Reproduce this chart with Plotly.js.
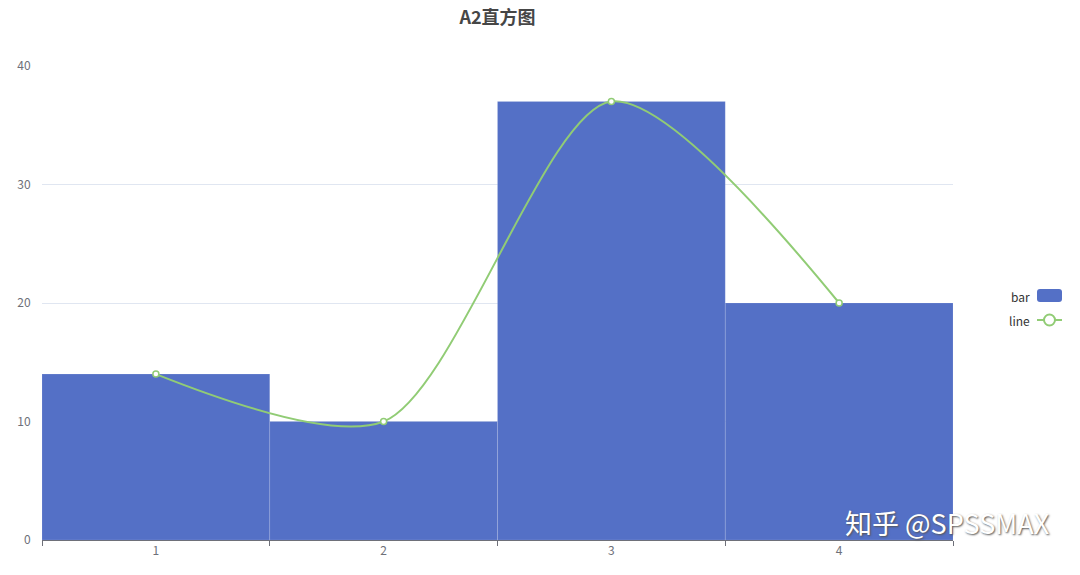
<!DOCTYPE html>
<html><head><meta charset="utf-8">
<script src="https://cdn.plot.ly/plotly-3.0.1.min.js"></script>
<style>html,body{margin:0;padding:0;background:#fff}#chart{width:1080px;height:575px}</style>
</head><body><div id="chart"></div>
<script>
const categories = ["1", "2", "3", "4"];
const barValues = [14, 10, 37, 20];
const lineValues = [14, 10, 37, 20];
const yTicks = [0, 10, 20, 30, 40];

const L = 42, R = 953, T = 66, B = 540;
const px = x => (x - L) / (R - L);
const py = y => (B - y) / (B - T);

const traces = [
  {type: 'bar', name: 'bar', x: categories, y: barValues,
   marker: {color: '#5470c6', line: {color: 'rgba(255,255,255,0.12)', width: 1}},
   hoverinfo: 'skip', showlegend: false},
  {type: 'scatter', mode: 'lines+markers', name: 'line', x: categories, y: lineValues,
   line: {color: '#91cc75', width: 2, shape: 'spline', smoothing: 0.8},
   marker: {symbol: 'circle', size: 6, color: '#ffffff', line: {color: '#91cc75', width: 1.5}},
   hoverinfo: 'skip', showlegend: false}
];

const font = {family: '"Microsoft YaHei", "Noto Sans CJK SC", "Noto Sans", sans-serif', size: 12, color: '#6e7079'};

const layout = {
  width: 1080, height: 575,
  margin: {l: L, r: 1080 - R, t: T, b: 575 - B},
  paper_bgcolor: '#ffffff', plot_bgcolor: '#ffffff',
  font: font,
  bargap: 0,
  title: {text: '<b>A2直方图</b>', x: 0.5, xref: 'paper', y: 1 - 18/575, yref: 'container', yanchor: 'middle',
          font: {family: font.family, size: 18, color: '#464646'}},
  xaxis: {type: 'category', tickson: 'boundaries', ticks: 'outside', ticklen: 5, tickcolor: '#6e7079',
          showline: true, linecolor: '#6e7079', linewidth: 1, showgrid: false, zeroline: false,
          tickfont: {size: 12, color: '#6e7079'}, fixedrange: true},
  yaxis: {range: [0, 40], tickvals: yTicks, showgrid: true, gridcolor: '#e0e6f1', gridwidth: 1,
          zeroline: false, showline: false, ticks: 'outside', ticklen: 8, tickcolor: 'rgba(0,0,0,0)',
          tickfont: {size: 12, color: '#6e7079'}, fixedrange: true},
  shapes: [
    {type: 'path', xref: 'paper', yref: 'paper',
     path: (() => {
       const x0 = px(1037), x1 = px(1062), y0 = py(302), y1 = py(289);
       const rx = 3/(R-L), ry = 3/(B-T);
       return `M ${x0+rx} ${y0} L ${x1-rx} ${y0} Q ${x1} ${y0} ${x1} ${y0+ry} L ${x1} ${y1-ry} Q ${x1} ${y1} ${x1-rx} ${y1} L ${x0+rx} ${y1} Q ${x0} ${y1} ${x0} ${y1-ry} L ${x0} ${y0+ry} Q ${x0} ${y0} ${x0+rx} ${y0} Z`;
     })(),
     fillcolor: '#5470c6', line: {width: 0}},
    {type: 'line', xref: 'paper', yref: 'paper', x0: px(1037), x1: px(1062), y0: py(320), y1: py(320),
     line: {color: '#91cc75', width: 2}},
    {type: 'circle', xref: 'paper', yref: 'paper', x0: px(1044), x1: px(1055), y0: py(325.5), y1: py(314.5),
     fillcolor: '#ffffff', line: {color: '#91cc75', width: 2}}
  ],
  annotations: [
    {text: 'bar', xref: 'paper', yref: 'paper', x: px(1032), y: py(296), xanchor: 'right', yanchor: 'middle',
     showarrow: false, font: {size: 12, color: '#333333'}},
    {text: 'line', xref: 'paper', yref: 'paper', x: px(1032), y: py(320), xanchor: 'right', yanchor: 'middle',
     showarrow: false, font: {size: 12, color: '#333333'}},
    {text: '知乎 @SPSSMAX', xref: 'paper', yref: 'paper', x: px(1052), y: py(522), xanchor: 'right', yanchor: 'middle',
     showarrow: false, font: {family: font.family, size: 27, color: '#ffffff', shadow: '1px 1px 2px #555'}}
  ]
};

Plotly.newPlot('chart', traces, layout, {displayModeBar: false, staticPlot: true});
</script>
</body></html>
